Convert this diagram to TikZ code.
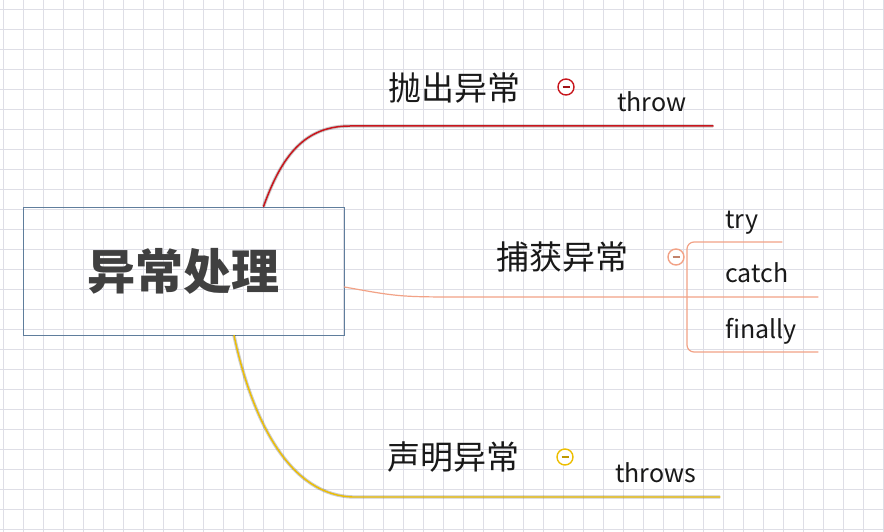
\documentclass[tikz,border=0pt]{standalone}
\usepackage{fontspec}
\setmainfont{Noto Sans CJK SC}
\usetikzlibrary{positioning, calc}
\definecolor{throwred}{HTML}{C8161D}
\definecolor{catchsalmon}{HTML}{F2A286}
\definecolor{declaregold}{HTML}{EDBE00}
\definecolor{rootblue}{HTML}{5F7D9C}
\definecolor{gridgray}{HTML}{DEDEE6}
\tikzset{
  gridline/.style={draw=gridgray, line width=0.7},
  root/.style={draw=rootblue, line width=0.9, minimum width=321, minimum height=128, inner sep=0, text=black!75, font=\fontsize{48}{48}\selectfont\bfseries},
  topic/.style={font=\fontsize{33}{33}\selectfont, text=black!90, inner sep=0},
  leaf/.style={font=\fontsize{25}{25}\selectfont, text=black!90, inner sep=0, anchor=base west},
  branch/.style={line width=#1, line cap=round},
  glow/.style={preaction={draw, line width=3.4, opacity=0.2}},
  fold/.style={circle, draw=#1, line width=1.4, fill=white, minimum size=16, inner sep=0, path picture={
    \draw[#1!80!black, line width=1.1] ([xshift=-3.5]path picture bounding box.center) -- ([xshift=3.5]path picture bounding box.center);
  }}
}
\begin{document}
\begin{tikzpicture}[x=1pt, y=-1pt]
    \useasboundingbox[fill=white] (0,0) rectangle (884,532);
    % grid paper
    \foreach \k in {0,...,44} \draw[gridline] ({3.3+20*\k},0) -- ({3.3+20*\k},532);
    \foreach \k in {0,...,26} \draw[gridline] (0,{9.3+20*\k}) -- (884,{9.3+20*\k});
    \node[root] (root) at (183.5,271) {异常处理};
    % throw branch
    \node[topic] (throwtopic) at (454,88) {抛出异常};
    \node[fold=throwred] (throwfold) at (566,87) {};
    \node[leaf] (throw) at (617,112) {throw};
    \coordinate (throwknee) at (350,126);
    \coordinate (throwend) at (713,126);
    \draw[throwred, branch=1.5, glow] ([xshift=80]root.north) .. controls (282,155) and (305,126) .. (throwknee) -- (throwend);
    % catch branch
    \node[topic] (catchtopic) at (562,257) {捕获异常};
    \node[fold=catchsalmon] (catchfold) at (676,257) {};
    \coordinate (fork) at (687,297);
    \coordinate (catchend) at (818,297);
    \draw[catchsalmon, branch=1.2] ([yshift=-16]root.east) .. controls (400,297) .. (470,297) -- (catchend);
    \node[leaf] (try) at (725,228) {try};
    \node[leaf] (catch) at (725,282) {catch};
    \node[leaf] (finally) at (725,338) {finally};
    \coordinate (tryend) at (782,242);
    \coordinate (finallyend) at (818,352);
    \draw[catchsalmon, branch=1.2, rounded corners=7] (tryend) -| (fork) |- (finallyend);
    % declare branch
    \node[topic] (declaretopic) at (453,457) {声明异常};
    \node[fold=declaregold] (declarefold) at (565,457) {};
    \node[leaf] (throws) at (615,482) {throws};
    \coordinate (declareknee) at (355,497);
    \coordinate (declareend) at (720,497);
    \draw[declaregold, branch=1.4, glow] ([xshift=50.5]root.south) .. controls (252,420) and (290,497) .. (declareknee) -- (declareend);
\end{tikzpicture}
\end{document}
